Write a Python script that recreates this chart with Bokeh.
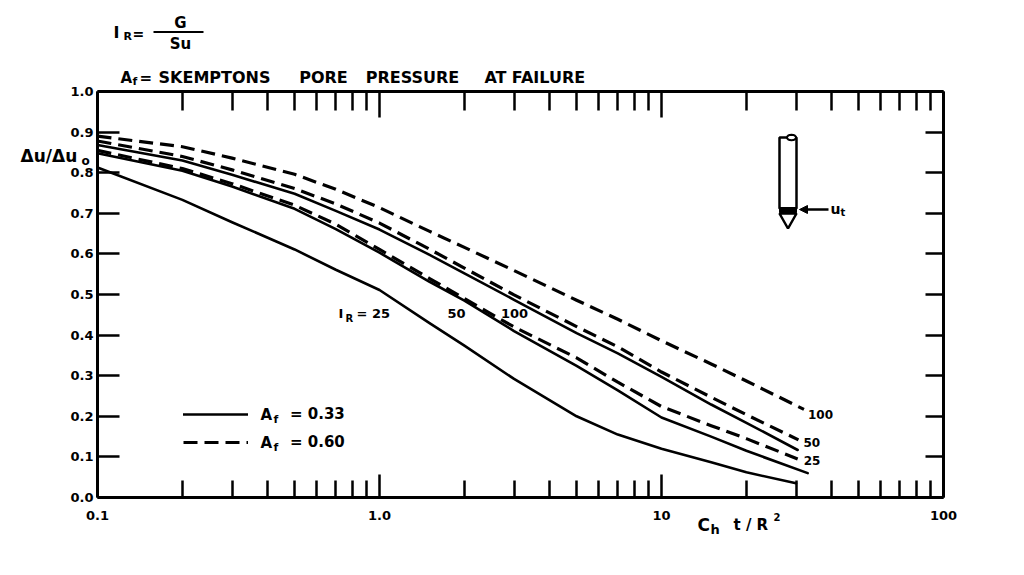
import numpy as np
from bokeh.plotting import figure
from bokeh.models import (Range1d, FixedTicker, LogAxis, LinearAxis, Legend, Label,
                          BoxAnnotation, PolyAnnotation, Arrow, NormalHead)
from bokeh.embed import file_html
from bokeh.resources import INLINE

# ---------------- data ----------------
ch_t_r2 = [0.1, 0.2, 0.3, 0.5, 0.7, 1.0, 1.5, 2.0, 3.0, 5.0, 7.0, 10.0, 15.0, 20.0]
ir_values = ["25", "50", "100"]

# A_f = 0.33 (solid)  -- last entry is the curve end point
x_end_a033 = [30.0, 33.0, 30.4]
du_a033_ir25 = [0.813, 0.733, 0.678, 0.611, 0.561, 0.511, 0.430, 0.374, 0.292, 0.200, 0.155, 0.120, 0.087, 0.062, 0.035]
du_a033_ir50 = [0.848, 0.805, 0.766, 0.711, 0.661, 0.603, 0.532, 0.485, 0.410, 0.324, 0.264, 0.197, 0.150, 0.115, 0.060]
du_a033_ir100 = [0.868, 0.830, 0.795, 0.748, 0.706, 0.660, 0.598, 0.552, 0.487, 0.405, 0.355, 0.297, 0.229, 0.184, 0.117]

# A_f = 0.60 (dashed)
x_end_a060 = [30.4, 30.6, 32.0]
du_a060_ir25 = [0.855, 0.810, 0.773, 0.720, 0.673, 0.611, 0.540, 0.490, 0.420, 0.344, 0.284, 0.224, 0.177, 0.145, 0.095]
du_a060_ir50 = [0.878, 0.840, 0.807, 0.761, 0.723, 0.676, 0.612, 0.565, 0.499, 0.421, 0.371, 0.309, 0.247, 0.204, 0.142]
du_a060_ir100 = [0.890, 0.864, 0.836, 0.796, 0.759, 0.714, 0.656, 0.616, 0.559, 0.486, 0.439, 0.386, 0.329, 0.287, 0.217]

x_major = [0.1, 1, 10, 100]
x_major_labels = ["0.1", "1.0", "10", "100"]
x_minor = [0.2, 0.3, 0.4, 0.5, 0.6, 0.7, 0.8, 0.9, 2, 3, 4, 5, 6, 7, 8, 9,
           20, 30, 40, 50, 60, 70, 80, 90]
y_ticks = [0, 0.1, 0.2, 0.3, 0.4, 0.5, 0.6, 0.7, 0.8, 0.9, 1]
y_tick_labels = ["0.0", "0.1", "0.2", "0.3", "0.4", "0.5", "0.6", "0.7", "0.8", "0.9", "1.0"]

header_words = ["SKEMPTONS", "PORE", "PRESSURE", "AT", "FAILURE"]

# ---------------- layout ----------------
FONT = "DejaVu Sans"
W, H = 1024, 575                 # canvas
BOX_L, BOX_T = 97, 91            # plot box position on the canvas
BOX_W, BOX_H = 846, 406          # plot box size
X_MIN, X_MAX = 0.1, 100.0
DEC = BOX_W / np.log10(X_MAX / X_MIN)

x_start = X_MIN * 10 ** (-BOX_L / DEC)
x_end = X_MAX * 10 ** ((W - BOX_L - BOX_W) / DEC)
y_end = 1 + BOX_T / BOX_H
y_start = -(H - BOX_T - BOX_H) / BOX_H

p = figure(width=W, height=H, x_axis_type="log", x_axis_location=None, y_axis_location=None,
           x_range=Range1d(x_start, x_end), y_range=Range1d(y_start, y_end),
           output_backend="svg", toolbar_location=None,
           min_border_left=0, min_border_right=0, min_border_top=0, min_border_bottom=0)
p.title.visible = False
p.background_fill_color = "white"
p.border_fill_color = "white"
p.grid.visible = False
p.outline_line_color = None


def fx(px):
    """box pixel (from box left) -> data x, for annotation placement"""
    return X_MIN * 10 ** (px / DEC)


def fy(py):
    """box pixel (from box top) -> data y, for annotation placement"""
    return 1.0 - py / BOX_H


def style_axis(ax, tick_in, minor_in, hide_labels=False):
    ax.axis_line_width = 3
    ax.axis_line_color = "black"
    ax.major_tick_in = tick_in
    ax.major_tick_out = 0
    ax.minor_tick_in = minor_in
    ax.minor_tick_out = 0
    ax.major_tick_line_width = 2.5
    ax.minor_tick_line_width = 2.5
    ax.major_tick_line_color = "black"
    ax.minor_tick_line_color = "black"
    ax.major_label_text_font = FONT
    ax.major_label_text_font_style = "bold"
    ax.major_label_text_font_size = "13px"
    ax.major_label_text_color = "black"
    if hide_labels:
        ax.major_label_text_font_size = "0px"


xb = LogAxis(ticker=FixedTicker(ticks=x_major, minor_ticks=x_minor),
             fixed_location=0, bounds=(X_MIN, X_MAX))
xb.major_label_overrides = {t: s for t, s in zip(x_major, x_major_labels)}
style_axis(xb, 23, 17)
xb.major_label_standoff = 13
p.add_layout(xb, "below")

xt = LogAxis(ticker=FixedTicker(ticks=x_major, minor_ticks=x_minor),
             fixed_location=1, bounds=(X_MIN, X_MAX))
xt.major_label_overrides = {t: "" for t in x_major}
style_axis(xt, 26, 19, hide_labels=True)
p.add_layout(xt, "above")

yl = LinearAxis(ticker=FixedTicker(ticks=y_ticks, minor_ticks=[]),
                fixed_location=X_MIN, bounds=(0, 1))
yl.major_label_overrides = {t: s for t, s in zip(y_ticks, y_tick_labels)}
style_axis(yl, 22, 0)
yl.major_label_standoff = 4
p.add_layout(yl, "left")

yr = LinearAxis(ticker=FixedTicker(ticks=y_ticks, minor_ticks=[]),
                fixed_location=X_MAX, bounds=(0, 1))
yr.major_label_overrides = {t: "" for t in y_ticks}
style_axis(yr, 18, 0, hide_labels=True)
p.add_layout(yr, "right")

# ---------------- curves ----------------
solid_renderers = []
for du, xe in zip([du_a033_ir25, du_a033_ir50, du_a033_ir100], x_end_a033):
    r = p.line(ch_t_r2 + [xe], du, line_color="black", line_width=2.6,
               line_join="round", line_cap="round")
    solid_renderers.append(r)

dashed_renderers = []
for du, xe in zip([du_a060_ir25, du_a060_ir50, du_a060_ir100], x_end_a060):
    r = p.line(ch_t_r2 + [xe], du, line_color="black", line_width=3.2,
               line_dash="14 7", line_join="round")
    dashed_renderers.append(r)

# ---------------- legend ----------------
legend = Legend(items=[("= 0.33", [solid_renderers[0]]), ("= 0.60", [dashed_renderers[0]])],
                location=(183, H - 456), glyph_width=65, glyph_height=28, label_height=28,
                spacing=0, padding=0, margin=0, label_standoff=42,
                border_line_color=None, background_fill_alpha=0,
                label_text_font=FONT, label_text_font_style="bold",
                label_text_font_size="15px", label_text_color="black")
p.add_layout(legend, "center")


def add_text(txt, px, py, size, align="left", baseline="middle", x_off=0, y_off=0, x=None, y=None):
    p.add_layout(Label(x=fx(px) if x is None else x, y=fy(py) if y is None else y,
                       text=txt, text_font=FONT, text_font_style="bold",
                       text_font_size=f"{size}px", text_align=align, text_baseline=baseline,
                       text_color="black", x_offset=x_off, y_offset=y_off))


# legend "A f" prefixes
add_text("A", 163, 323, 15)
add_text("f", 176, 328, 11)
add_text("A", 163, 351, 15)
add_text("f", 176, 356, 11)

# ---------------- header texts ----------------
add_text("I", 16, -59, 16)
add_text("R", 26, -55, 11)
add_text("=", 35, -58, 14)
p.add_layout(BoxAnnotation(left=fx(56), right=fx(106), top=fy(-60.5), bottom=fy(-58.5),
                           fill_color="black", fill_alpha=1, line_color=None))
add_text("G", 83, -69, 15, align="center")
add_text("Su", 83, -48, 15, align="center")

add_text("A", 23, -14, 15)
add_text("f", 35, -10, 11)
add_text("=", 42, -14, 15)
for word, px in zip(header_words, [117, 226, 315, 398, 451]):
    add_text(word, px, -14, 16, align="center")

# y title
add_text("\u0394u/\u0394u", -77, 64, 17)
add_text("o", -16, 69, 12)

# x title
add_text("C", 600, 433, 17)
add_text("h", 613, 438, 13)
add_text("t / R", 636, 433, 15)
add_text("2", 676, 425, 10)

# curve labels (middle, I_R values of A_f = 0.33 curves)
add_text("I", 241, 222, 13)
add_text("R", 248, 227, 10)
add_text("= " + ir_values[0], 259, 222, 13)
add_text(ir_values[1], 359, 222, 13, align="center")
add_text(ir_values[2], 417, 222, 13, align="center")

# right-end labels anchored on the A_f = 0.60 curve ends
ends_060 = [du_a060_ir25, du_a060_ir50, du_a060_ir100]
offs = [(6, -2), (5, -3), (4, -5)]
for lab, du, xe, (ox, oy) in zip(ir_values, ends_060, x_end_a060, offs):
    add_text(lab, 0, 0, 12, x=xe, y=du[-1], x_off=ox, y_off=oy)

# ---------------- piezocone sketch ----------------
cyl_l, cyl_r, cyl_t, cyl_b = 682, 699, 46, 117
poly_style = dict(fill_alpha=1, line_alpha=1, line_color="black")
p.add_layout(PolyAnnotation(xs=[fx(cyl_l), fx(cyl_r), fx(cyl_r), fx(cyl_l)],
                            ys=[fy(cyl_t), fy(cyl_t), fy(cyl_b), fy(cyl_b)],
                            fill_color="white", line_width=2.5, **poly_style))
th = np.linspace(0, 2 * np.pi, 17)
p.add_layout(PolyAnnotation(xs=[fx(694 + 4.5 * np.cos(t)) for t in th],
                            ys=[fy(46 + 2.8 * np.sin(t)) for t in th],
                            fill_color="white", line_width=2, **poly_style))
p.add_layout(PolyAnnotation(xs=[fx(cyl_l), fx(cyl_r), fx(cyl_r), fx(cyl_l)],
                            ys=[fy(116), fy(116), fy(121), fy(121)],
                            fill_color="black", line_width=1, **poly_style))
p.add_layout(PolyAnnotation(xs=[fx(cyl_l), fx(cyl_r), fx(690.5)],
                            ys=[fy(122), fy(122), fy(137)],
                            fill_color="white", line_width=2.5, **poly_style))
p.add_layout(Arrow(x_start=fx(731), y_start=fy(118), x_end=fx(702), y_end=fy(118),
                   line_width=2.5, line_color="black",
                   end=NormalHead(size=8, fill_color="black", line_color="black")))
add_text("u", 733, 117, 14)
add_text("t", 743, 121, 10)

open("out.html", "w").write(file_html(p, INLINE))
